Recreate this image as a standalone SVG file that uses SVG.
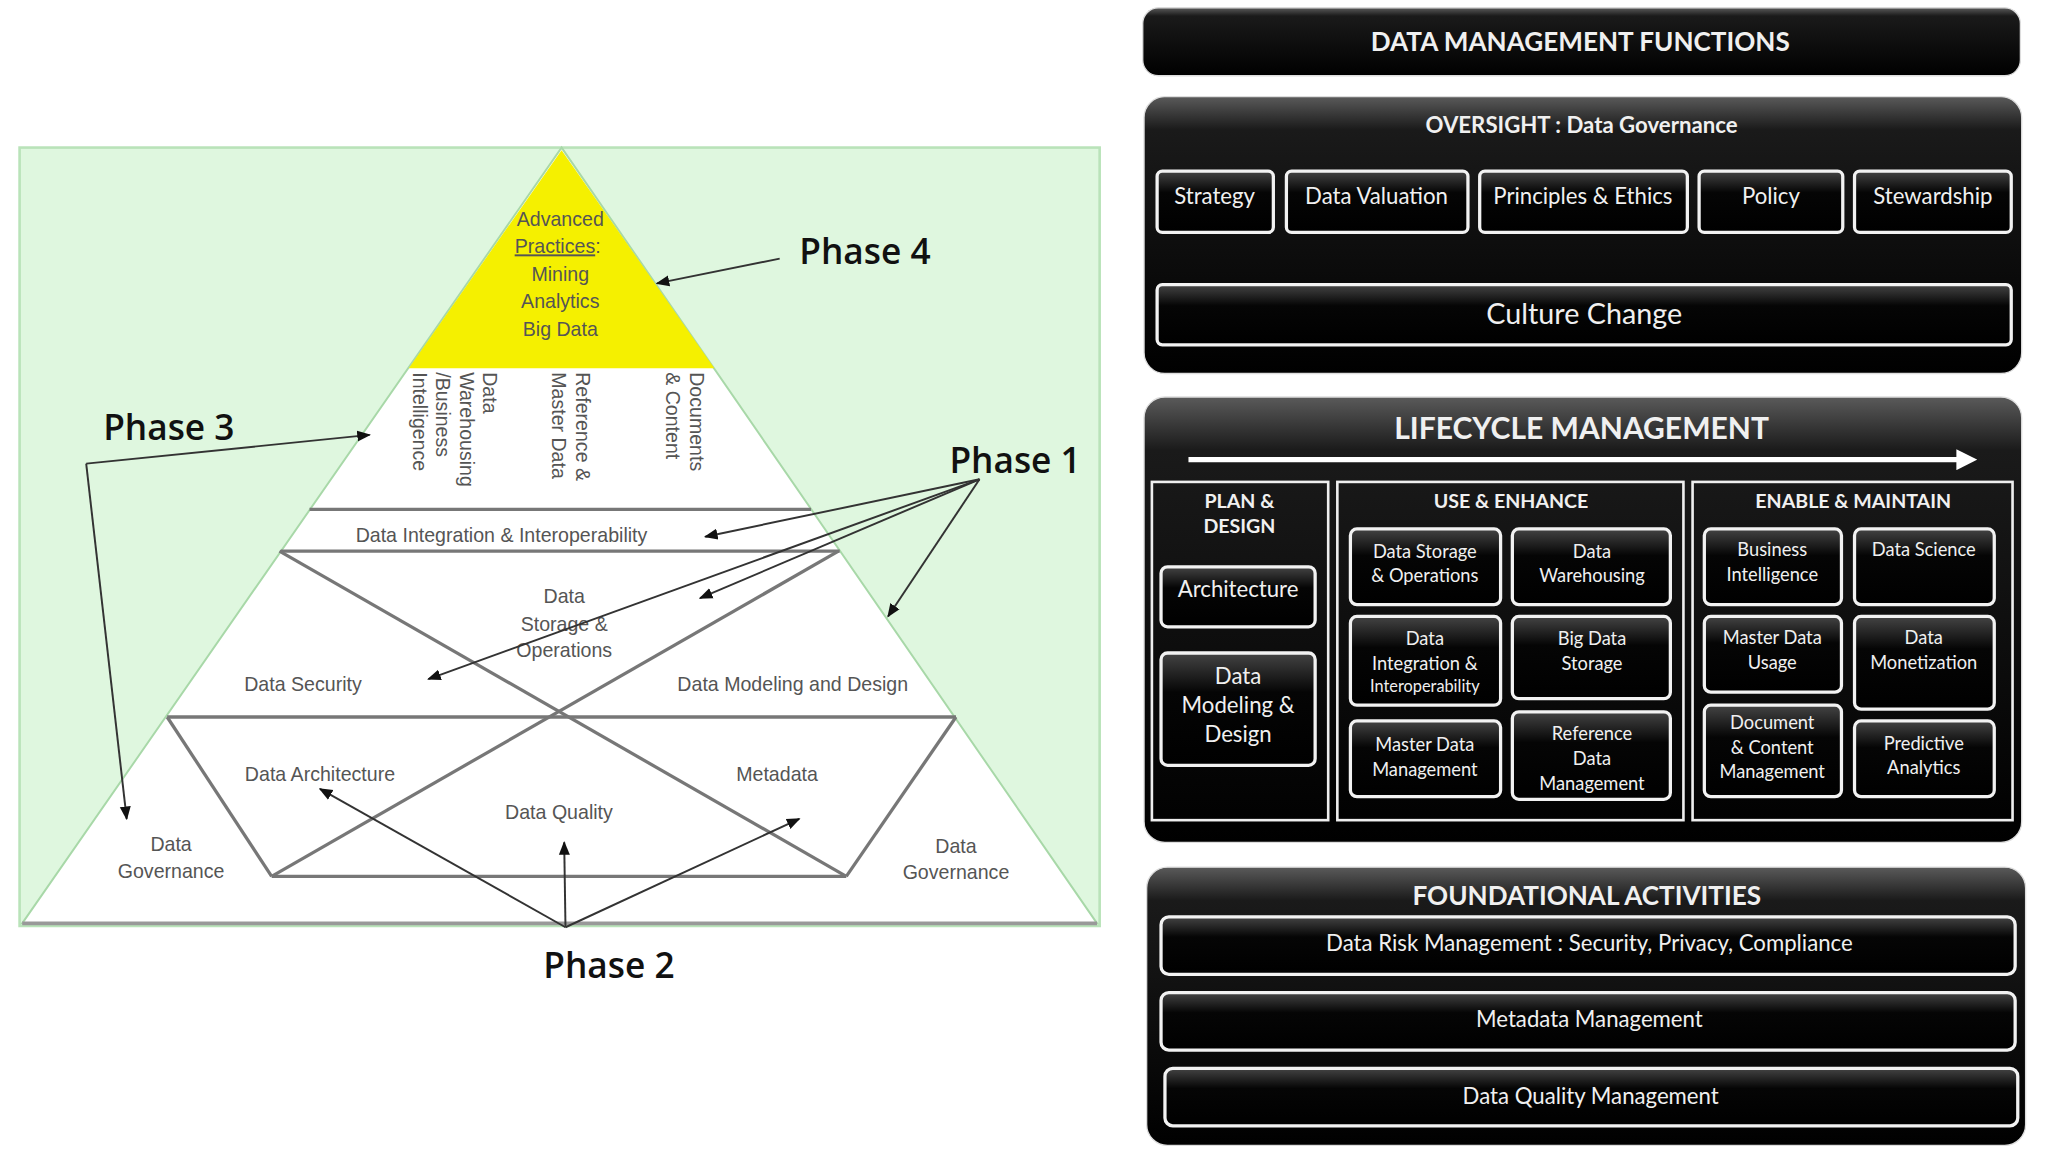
<svg xmlns="http://www.w3.org/2000/svg" width="2048" height="1152" viewBox="0 0 2048 1152">
<defs>
<linearGradient id="gb" x1="0" y1="0" x2="0" y2="1"><stop offset="0" stop-color="#5a5a5a"/><stop offset="0.12" stop-color="#1a1a1a"/><stop offset="1" stop-color="#000"/></linearGradient>
<linearGradient id="gi" x1="0" y1="0" x2="0" y2="1"><stop offset="0" stop-color="#444"/><stop offset="0.35" stop-color="#050505"/><stop offset="1" stop-color="#000"/></linearGradient>
<marker id="ah" viewBox="0 0 10 10" refX="9" refY="5" markerWidth="7" markerHeight="7" orient="auto-start-reverse"><path d="M0,1 L10,5 L0,9 z" fill="#111"/></marker>
<marker id="wa" viewBox="0 0 10 10" refX="5" refY="5" markerWidth="4" markerHeight="4" orient="auto"><path d="M0,0 L10,5 L0,10 z" fill="#fff"/></marker>
<style>
.pt{font-family:"Liberation Sans",Arial,sans-serif;font-size:15px;fill:#555;text-anchor:middle}
.ph{font-family:"Open Sans","Liberation Sans",sans-serif;font-size:27px;font-weight:600;fill:#111}
.pl{stroke:#777;stroke-width:2.5;fill:none}
.ar{stroke:#333;stroke-width:1.5;fill:none;marker-end:url(#ah)}
.ob{fill:url(#gb);stroke:#ddd;stroke-width:1}
.ib{fill:url(#gi);stroke:#f2f2f2;stroke-width:2.5}
.t{font-family:Lato,"Open Sans",sans-serif;fill:#f0f0f0;text-anchor:middle}
.h{font-weight:700}
</style>
</defs>
<rect width="2048" height="1152" fill="#fff"/>
<g transform="scale(1.306)">
<g id="pyramid">
<rect x="15" y="113" width="827" height="596" fill="#dff7df" stroke="#b9e3b9" stroke-width="2"/>
<polygon points="430,113 17,707 840,707" fill="#fff" stroke="#a8d8a8" stroke-width="1.5"/>
<polygon points="430,115 313,282 547,282" fill="#f5f000"/>
<line x1="17" y1="707" x2="840" y2="707" stroke="#999" stroke-width="3"/>
<line class="pl" x1="237" y1="390" x2="621" y2="390"/>
<line class="pl" x1="215" y1="422" x2="643" y2="422"/>
<line class="pl" x1="128" y1="549" x2="732" y2="549"/>
<line class="pl" x1="208" y1="671" x2="648" y2="671"/>
<line class="pl" x1="214" y1="422" x2="648" y2="671"/>
<line class="pl" x1="642" y1="422" x2="208" y2="671"/>
<line class="pl" x1="128" y1="549" x2="208" y2="671"/>
<line class="pl" x1="732" y1="549" x2="648" y2="671"/>
<text class="pt"><tspan x="429" y="173">Advanced</tspan><tspan x="427" y="194" text-decoration="underline">Practices</tspan><tspan>:</tspan><tspan x="429" y="215">Mining</tspan><tspan x="429" y="236">Analytics</tspan><tspan x="429" y="257">Big Data</tspan></text>
<text class="pt" style="text-anchor:start" transform="rotate(90 370 285)"><tspan x="370" y="285">Data</tspan><tspan x="370" dy="18">Warehousing</tspan><tspan x="370" dy="18">/Business</tspan><tspan x="370" dy="18">Intelligence</tspan></text>
<text class="pt" style="text-anchor:start" transform="rotate(90 441 285)"><tspan x="441" y="285">Reference &amp;</tspan><tspan x="441" dy="18">Master Data</tspan></text>
<text class="pt" style="text-anchor:start" transform="rotate(90 528 285)"><tspan x="528" y="285">Documents</tspan><tspan x="528" dy="18">&amp; Content</tspan></text>
<text class="pt" x="384" y="415">Data Integration &amp; Interoperability</text>
<text class="pt"><tspan x="432" y="462">Data</tspan><tspan x="432" y="483">Storage &amp;</tspan><tspan x="432" y="503">Operations</tspan></text>
<text class="pt" x="232" y="529">Data Security</text>
<text class="pt" x="607" y="529">Data Modeling  and  Design</text>
<text class="pt" x="245" y="598">Data Architecture</text>
<text class="pt" x="595" y="598">Metadata</text>
<text class="pt" x="428" y="627">Data Quality</text>
<text class="pt"><tspan x="131" y="652">Data</tspan><tspan x="131" y="672">Governance</tspan></text>
<text class="pt"><tspan x="732" y="653">Data</tspan><tspan x="732" y="673">Governance</tspan></text>
<text class="ph" x="612" y="202">Phase 4</text>
<text class="ph" x="79" y="337">Phase 3</text>
<text class="ph" x="727" y="362">Phase 1</text>
<text class="ph" x="416" y="749">Phase 2</text>
</g>
<g id="connectors">
<line class="ar" x1="597" y1="198" x2="503" y2="217"/>
<line class="ar" x1="66" y1="355" x2="283" y2="333"/>
<line class="ar" x1="66" y1="355" x2="97" y2="627"/>
<line class="ar" x1="750" y1="367" x2="540" y2="411"/>
<line class="ar" x1="750" y1="367" x2="536" y2="458"/>
<line class="ar" x1="750" y1="367" x2="328" y2="520"/>
<line class="ar" x1="750" y1="367" x2="680" y2="472"/>
<line class="ar" x1="433" y1="710" x2="245" y2="604"/>
<line class="ar" x1="433" y1="710" x2="432" y2="645"/>
<line class="ar" x1="433" y1="710" x2="612" y2="627"/>
</g>
<g id="dmf">
<rect class="ob" x="875" y="6" width="672" height="52" rx="12"/>
<text class="t h" x="1210" y="39" font-size="20">DATA MANAGEMENT FUNCTIONS</text>
</g>
<g id="oversight">
<rect class="ob" x="876" y="74" width="672" height="212" rx="16"/>
<text class="t h" x="1211" y="102" font-size="17">OVERSIGHT : Data Governance</text>
<rect class="ib" x="886" y="131" width="89" height="47" rx="4"/><text class="t" x="930" y="156" font-size="17">Strategy</text>
<rect class="ib" x="985" y="131" width="139" height="47" rx="4"/><text class="t" x="1054" y="156" font-size="17">Data Valuation</text>
<rect class="ib" x="1133" y="131" width="159" height="47" rx="4"/><text class="t" x="1212" y="156" font-size="17">Principles &amp; Ethics</text>
<rect class="ib" x="1301" y="131" width="110" height="47" rx="4"/><text class="t" x="1356" y="156" font-size="17">Policy</text>
<rect class="ib" x="1420" y="131" width="120" height="47" rx="4"/><text class="t" x="1480" y="156" font-size="17">Stewardship</text>
<rect class="ib" x="886" y="218" width="654" height="46" rx="4"/><text class="t" x="1213" y="248" font-size="22">Culture Change</text>
</g>
<g id="lifecycle">
<rect class="ob" x="876" y="304" width="672" height="341" rx="16"/>
<text class="t h" x="1211" y="336" font-size="23">LIFECYCLE MANAGEMENT</text>
<line x1="910" y1="352" x2="1506" y2="352" stroke="#fff" stroke-width="4" marker-end="url(#wa)"/>
<rect x="882" y="369" width="135" height="259" fill="none" stroke="#eee" stroke-width="2"/>
<rect x="1024" y="369" width="265" height="259" fill="none" stroke="#eee" stroke-width="2"/>
<rect x="1296" y="369" width="245" height="259" fill="none" stroke="#eee" stroke-width="2"/>
<text class="t h" font-size="15"><tspan x="949" y="389">PLAN &amp;</tspan><tspan x="949" y="408">DESIGN</tspan></text>
<text class="t h" x="1157" y="389" font-size="15">USE &amp; ENHANCE</text>
<text class="t h" x="1419" y="389" font-size="15">ENABLE &amp; MAINTAIN</text>
<rect class="ib" x="889" y="434" width="118" height="46" rx="5"/><text class="t" x="948" y="457" font-size="17">Architecture</text>
<rect class="ib" x="889" y="500" width="118" height="86" rx="5"/><text class="t" font-size="17"><tspan x="948" y="524">Data</tspan><tspan x="948" y="546">Modeling &amp;</tspan><tspan x="948" y="568">Design</tspan></text>
<rect class="ib" x="1034" y="405" width="115" height="58" rx="5"/><text class="t" font-size="14"><tspan x="1091" y="427">Data Storage</tspan><tspan x="1091" y="446">&amp; Operations</tspan></text>
<rect class="ib" x="1158" y="405" width="121" height="58" rx="5"/><text class="t" font-size="14"><tspan x="1219" y="427">Data</tspan><tspan x="1219" y="446">Warehousing</tspan></text>
<rect class="ib" x="1034" y="472" width="115" height="68" rx="5"/><text class="t" font-size="14"><tspan x="1091" y="494">Data</tspan><tspan x="1091" y="513">Integration &amp;</tspan><tspan x="1091" y="530" font-size="12.5">Interoperability</tspan></text>
<rect class="ib" x="1158" y="472" width="121" height="63" rx="5"/><text class="t" font-size="14"><tspan x="1219" y="494">Big Data</tspan><tspan x="1219" y="513">Storage</tspan></text>
<rect class="ib" x="1034" y="552" width="115" height="58" rx="5"/><text class="t" font-size="14"><tspan x="1091" y="575">Master Data</tspan><tspan x="1091" y="594">Management</tspan></text>
<rect class="ib" x="1158" y="545" width="121" height="67" rx="5"/><text class="t" font-size="14"><tspan x="1219" y="567">Reference</tspan><tspan x="1219" y="586">Data</tspan><tspan x="1219" y="605">Management</tspan></text>
<rect class="ib" x="1305" y="405" width="105" height="58" rx="5"/><text class="t" font-size="14"><tspan x="1357" y="426">Business</tspan><tspan x="1357" y="445">Intelligence</tspan></text>
<rect class="ib" x="1420" y="405" width="107" height="58" rx="5"/><text class="t" font-size="14"><tspan x="1473" y="426">Data Science</tspan></text>
<rect class="ib" x="1305" y="472" width="105" height="58" rx="5"/><text class="t" font-size="14"><tspan x="1357" y="493">Master Data</tspan><tspan x="1357" y="512">Usage</tspan></text>
<rect class="ib" x="1420" y="472" width="107" height="71" rx="5"/><text class="t" font-size="14"><tspan x="1473" y="493">Data</tspan><tspan x="1473" y="512">Monetization</tspan></text>
<rect class="ib" x="1305" y="540" width="105" height="70" rx="5"/><text class="t" font-size="14"><tspan x="1357" y="558">Document</tspan><tspan x="1357" y="577">&amp; Content</tspan><tspan x="1357" y="596">Management</tspan></text>
<rect class="ib" x="1420" y="552" width="107" height="58" rx="5"/><text class="t" font-size="14"><tspan x="1473" y="574">Predictive</tspan><tspan x="1473" y="593">Analytics</tspan></text>
</g>
<g id="foundational">
<rect class="ob" x="878" y="664" width="673" height="213" rx="16"/>
<text class="t h" x="1215" y="693" font-size="20">FOUNDATIONAL ACTIVITIES</text>
<rect class="ib" x="889" y="702" width="654" height="44" rx="6"/><text class="t" x="1217" y="728" font-size="17">Data Risk Management : Security, Privacy, Compliance</text>
<rect class="ib" x="889" y="760" width="654" height="44" rx="6"/><text class="t" x="1217" y="786" font-size="17">Metadata Management</text>
<rect class="ib" x="892" y="818" width="653" height="44" rx="6"/><text class="t" x="1218" y="845" font-size="17">Data Quality Management</text>
</g>
</g>
</svg>
